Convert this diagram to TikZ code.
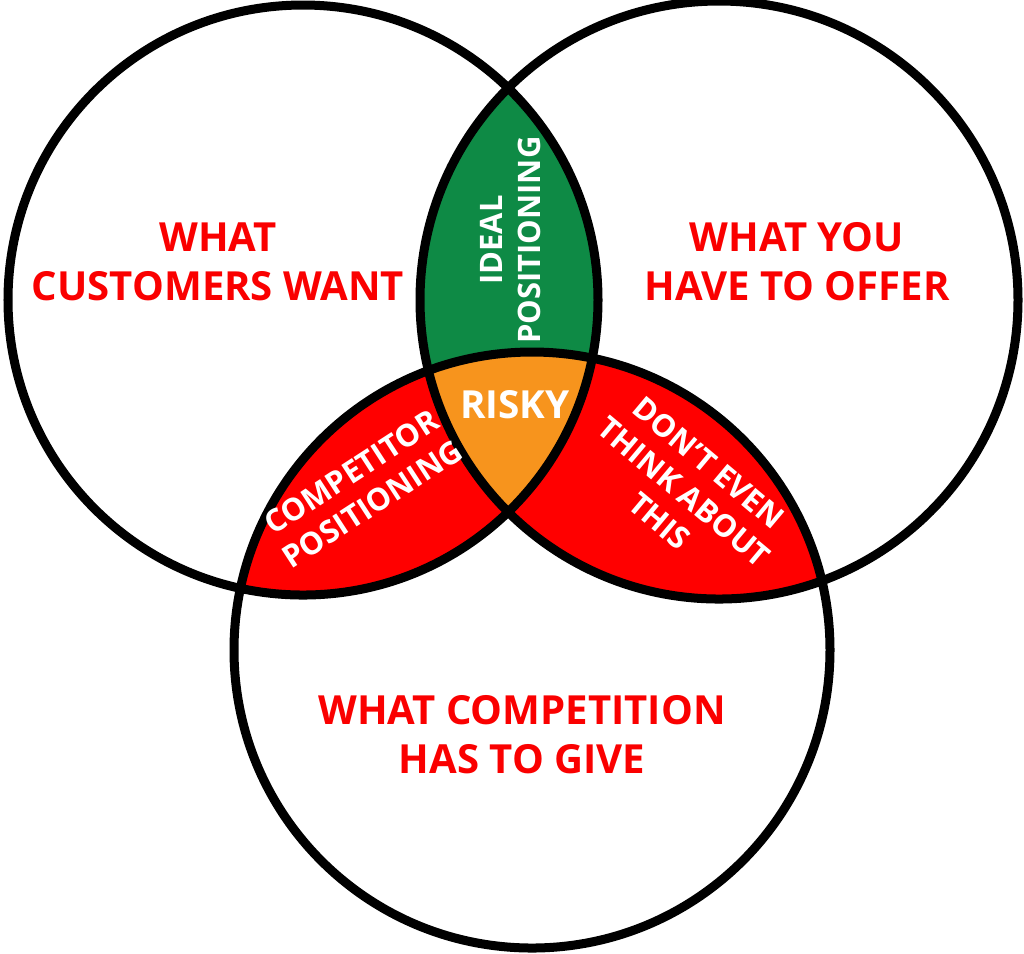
\documentclass[tikz,border=0pt]{standalone}
\usepackage{fontspec}
\setmainfont{Open Sans}
\usepackage{tikz}
\definecolor{vgreen}{RGB}{14,138,69}
\definecolor{vred}{RGB}{255,0,0}
\definecolor{vorange}{RGB}{247,148,29}
\definecolor{vtext}{RGB}{250,0,0}
\tikzset{
  ring/.style={draw=black,line width=0.09cm},
  outer/.style={font=\bfseries\fontsize{11.4}{14}\selectfont,text=vtext,align=center},
  inner/.style={font=\bfseries\fontsize{8.8}{10.8}\selectfont,text=white,align=center}
}
\begin{document}
\begin{tikzpicture}[x=0.01cm,y=-0.01cm]
  \useasboundingbox (0,0) rectangle (1024,953);
  \def\circL{(303,300) circle (295)}
  \def\circR{(719,300) circle (299)}
  \def\circB{(532,650) circle (298)}
  \fill[white] (0,0) rectangle (1024,953);
  % overlaps
  \begin{scope}
    \clip \circL; \fill[vgreen] \circR;
  \end{scope}
  \begin{scope}
    \clip \circL; \fill[vred] \circB;
  \end{scope}
  \begin{scope}
    \clip \circR; \fill[vred] \circB;
  \end{scope}
  \begin{scope}
    \clip \circL; \clip \circR; \fill[vorange] \circB;
  \end{scope}
  \draw[ring] \circL;
  \draw[ring] \circR;
  \draw[ring] \circB;
  % labels
  \node[outer] (want) at (218,262) {WHAT\\CUSTOMERS WANT};
  \node[outer] (offer) at (797,262) {WHAT YOU\\HAVE TO OFFER};
  \node[outer] (give) at (522,735) {WHAT COMPETITION\\HAS TO GIVE};
  \node[inner,rotate=90] (ideal) at (511,240) {IDEAL\\POSITIONING};
  \node[inner,font=\bfseries\fontsize{11}{13}\selectfont] (risky) at (515,405) {RISKY};
  \node[inner,rotate=33] (comp) at (362,488) {COMPETITOR\\POSITIONING};
  \node[inner,rotate=-40] (dont) at (684,492) {DON’T EVEN\\THINK ABOUT\\THIS};
\end{tikzpicture}
\end{document}
